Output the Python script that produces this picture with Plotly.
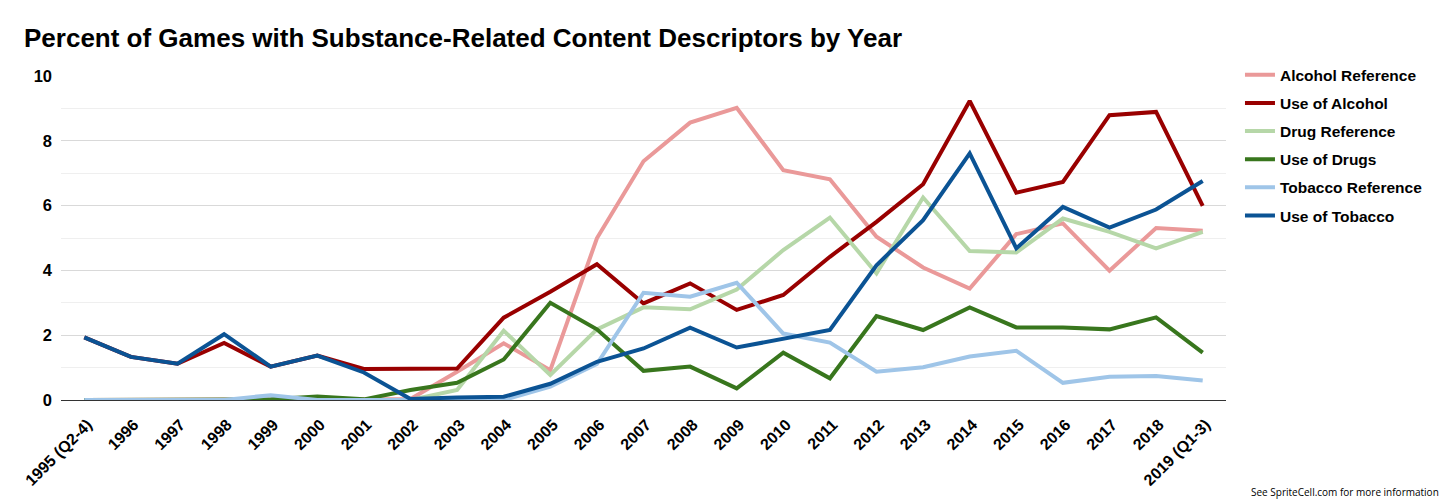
import plotly.graph_objects as go

years = ["1995 (Q2-4)", "1996", "1997", "1998", "1999", "2000", "2001", "2002", "2003",
         "2004", "2005", "2006", "2007", "2008", "2009", "2010", "2011", "2012", "2013",
         "2014", "2015", "2016", "2017", "2018", "2019 (Q1-3)"]

alcohol_reference = [0, 0, 0, 0, 0, 0, 0, 0.03, 0.87, 1.75, 0.92, 4.99, 7.37, 8.56, 9.02,
                     7.09, 6.81, 5.04, 4.09, 3.44, 5.12, 5.45, 3.99, 5.31, 5.22]
use_of_alcohol = [1.93, 1.33, 1.12, 1.76, 1.03, 1.37, 0.96, 0.95, 0.97, 2.54, 3.34, 4.19,
                  2.98, 3.60, 2.78, 3.24, 4.42, 5.50, 6.66, 9.23, 6.40, 6.73, 8.79, 8.89, 5.99]
drug_reference = [0, 0, 0, 0, 0, 0, 0, 0, 0.31, 2.14, 0.77, 2.18, 2.86, 2.80, 3.41, 4.63,
                  5.63, 3.91, 6.25, 4.60, 4.55, 5.60, 5.19, 4.68, 5.19]
use_of_drugs = [0, 0, 0, 0, 0.02, 0.11, 0.02, 0.31, 0.53, 1.25, 3.00, 2.18, 0.90, 1.03,
                0.36, 1.46, 0.67, 2.59, 2.16, 2.86, 2.24, 2.24, 2.18, 2.55, 1.46]
tobacco_reference = [0, 0, 0, 0, 0.15, 0, 0, 0, 0, 0, 0.41, 1.11, 3.31, 3.19, 3.62, 2.05,
                     1.77, 0.87, 1.01, 1.34, 1.52, 0.53, 0.72, 0.74, 0.60]
use_of_tobacco = [1.93, 1.33, 1.12, 2.03, 1.03, 1.37, 0.85, 0.03, 0.08, 0.10, 0.50, 1.18,
                  1.59, 2.23, 1.62, 1.90, 2.16, 4.16, 5.55, 7.61, 4.68, 5.96, 5.32, 5.88, 6.76]

series = [
    ("Alcohol Reference", alcohol_reference, "#ea9999"),
    ("Use of Alcohol", use_of_alcohol, "#990000"),
    ("Drug Reference", drug_reference, "#b6d7a8"),
    ("Use of Drugs", use_of_drugs, "#38761d"),
    ("Tobacco Reference", tobacco_reference, "#9fc5e8"),
    ("Use of Tobacco", use_of_tobacco, "#0b5394"),
]

FONT = "Liberation Sans, Arial, sans-serif"

fig = go.Figure()
for i, (name, vals, color) in enumerate(series):
    fig.add_trace(go.Scatter(
        x=years, y=vals, name=name, mode="lines",
        line=dict(color=color, width=4),
        legendgroup=f"g{i}",
    ))

fig.update_layout(
    width=1447, height=500,
    paper_bgcolor="white", plot_bgcolor="white",
    margin=dict(l=61, r=221, t=76, b=100),
    title=dict(
        text="<b>Percent of Games with Substance-Related Content Descriptors by Year</b>",
        font=dict(family=FONT, size=26, color="#000000"),
        x=24 / 1447, xref="container", xanchor="left",
        y=1 - 38 / 500, yref="container", yanchor="middle",
    ),
    font=dict(family=FONT, color="#000000"),
    showlegend=True,
    legend=dict(
        x=1.012, xanchor="left", y=1.055, yanchor="top",
        font=dict(family=FONT, size=15.5, color="#000000", weight="bold"),
        tracegroupgap=5,
        bgcolor="rgba(0,0,0,0)",
    ),
    xaxis=dict(
        type="category", range=[-0.5, 24.5],
        tickangle=-45,
        tickfont=dict(family=FONT, size=16, color="#000000", weight="bold"),
        showgrid=False, showline=True, linecolor="#333333", linewidth=1,
        ticks="", zeroline=False,
        ticklabelstandoff=8, ticklabelshift=3,
    ),
    yaxis=dict(
        range=[0, 10], dtick=2,
        tickfont=dict(family=FONT, size=16.5, color="#000000", weight="bold"),
        showgrid=True, gridcolor="#d9d9d9", gridwidth=1,
        minor=dict(dtick=1, showgrid=True, gridcolor="#efefef", gridwidth=1),
        zeroline=False, showline=False, ticks="",
        ticklabelstandoff=8,
    ),
    annotations=[dict(
        text="See SpriteCell.com for more information",
        xref="paper", yref="paper",
        x=(1441 - 61) / 1165, y=(400 - 492) / 324,
        xanchor="right", yanchor="middle", showarrow=False,
        font=dict(family="Open Sans, sans-serif", size=10, color="#000000"),
    )],
)

fig.write_html("out.html")
